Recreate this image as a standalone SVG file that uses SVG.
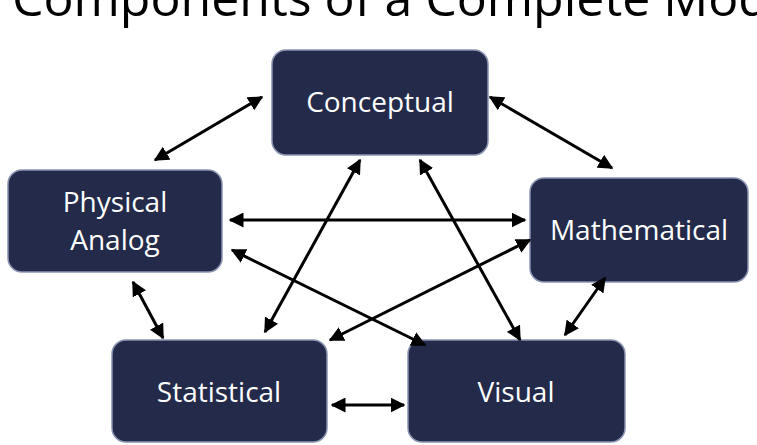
<svg xmlns="http://www.w3.org/2000/svg" width="757" height="445" viewBox="0 0 757 445">
<defs>
<marker id="a" viewBox="0 0 10 10" refX="9" refY="5" markerWidth="5" markerHeight="5" orient="auto-start-reverse"><path d="M0,0L10,5L0,10z" fill="#000"/></marker>
<style>
.n{fill:#232a4a;stroke:#8a93b0;stroke-width:1.5}
.t{font-family:"Open Sans","Liberation Sans",sans-serif;font-size:28px;fill:#fff;text-anchor:middle}
line{stroke:#000;stroke-width:3;marker-start:url(#a);marker-end:url(#a)}
</style>
</defs>
<rect width="757" height="445" fill="#fff"/>
<text x="12" y="16" font-family="'Open Sans','Liberation Sans',sans-serif" font-size="50" fill="#000">Components of a Complete Model</text>
<g id="conceptual"><rect class="n" x="272" y="50" width="216" height="105" rx="14"/><text class="t" x="380" y="112">Conceptual</text></g>
<g id="physical"><rect class="n" x="8" y="170" width="214" height="102" rx="14"/><text class="t" x="115" y="212">Physical</text><text class="t" x="115" y="250">Analog</text></g>
<g id="mathematical"><rect class="n" x="530" y="178" width="218" height="104" rx="14"/><text class="t" x="639" y="240">Mathematical</text></g>
<g id="statistical"><rect class="n" x="112" y="340" width="215" height="102" rx="14"/><text class="t" x="219" y="402">Statistical</text></g>
<g id="visual"><rect class="n" x="408" y="340" width="217" height="102" rx="14"/><text class="t" x="516" y="402">Visual</text></g>
<g id="connectors">
<line x1="262" y1="97" x2="155" y2="160"/>
<line x1="490" y1="97" x2="612" y2="168"/>
<line x1="230" y1="220" x2="525" y2="220"/>
<line x1="232" y1="250" x2="425" y2="345"/>
<line x1="530" y1="240" x2="330" y2="340"/>
<line x1="360" y1="160" x2="265" y2="332"/>
<line x1="420" y1="160" x2="520" y2="340"/>
<line x1="133" y1="282" x2="163" y2="338"/>
<line x1="605" y1="278" x2="565" y2="335"/>
<line x1="332" y1="405" x2="404" y2="405"/>
</g>
</svg>
